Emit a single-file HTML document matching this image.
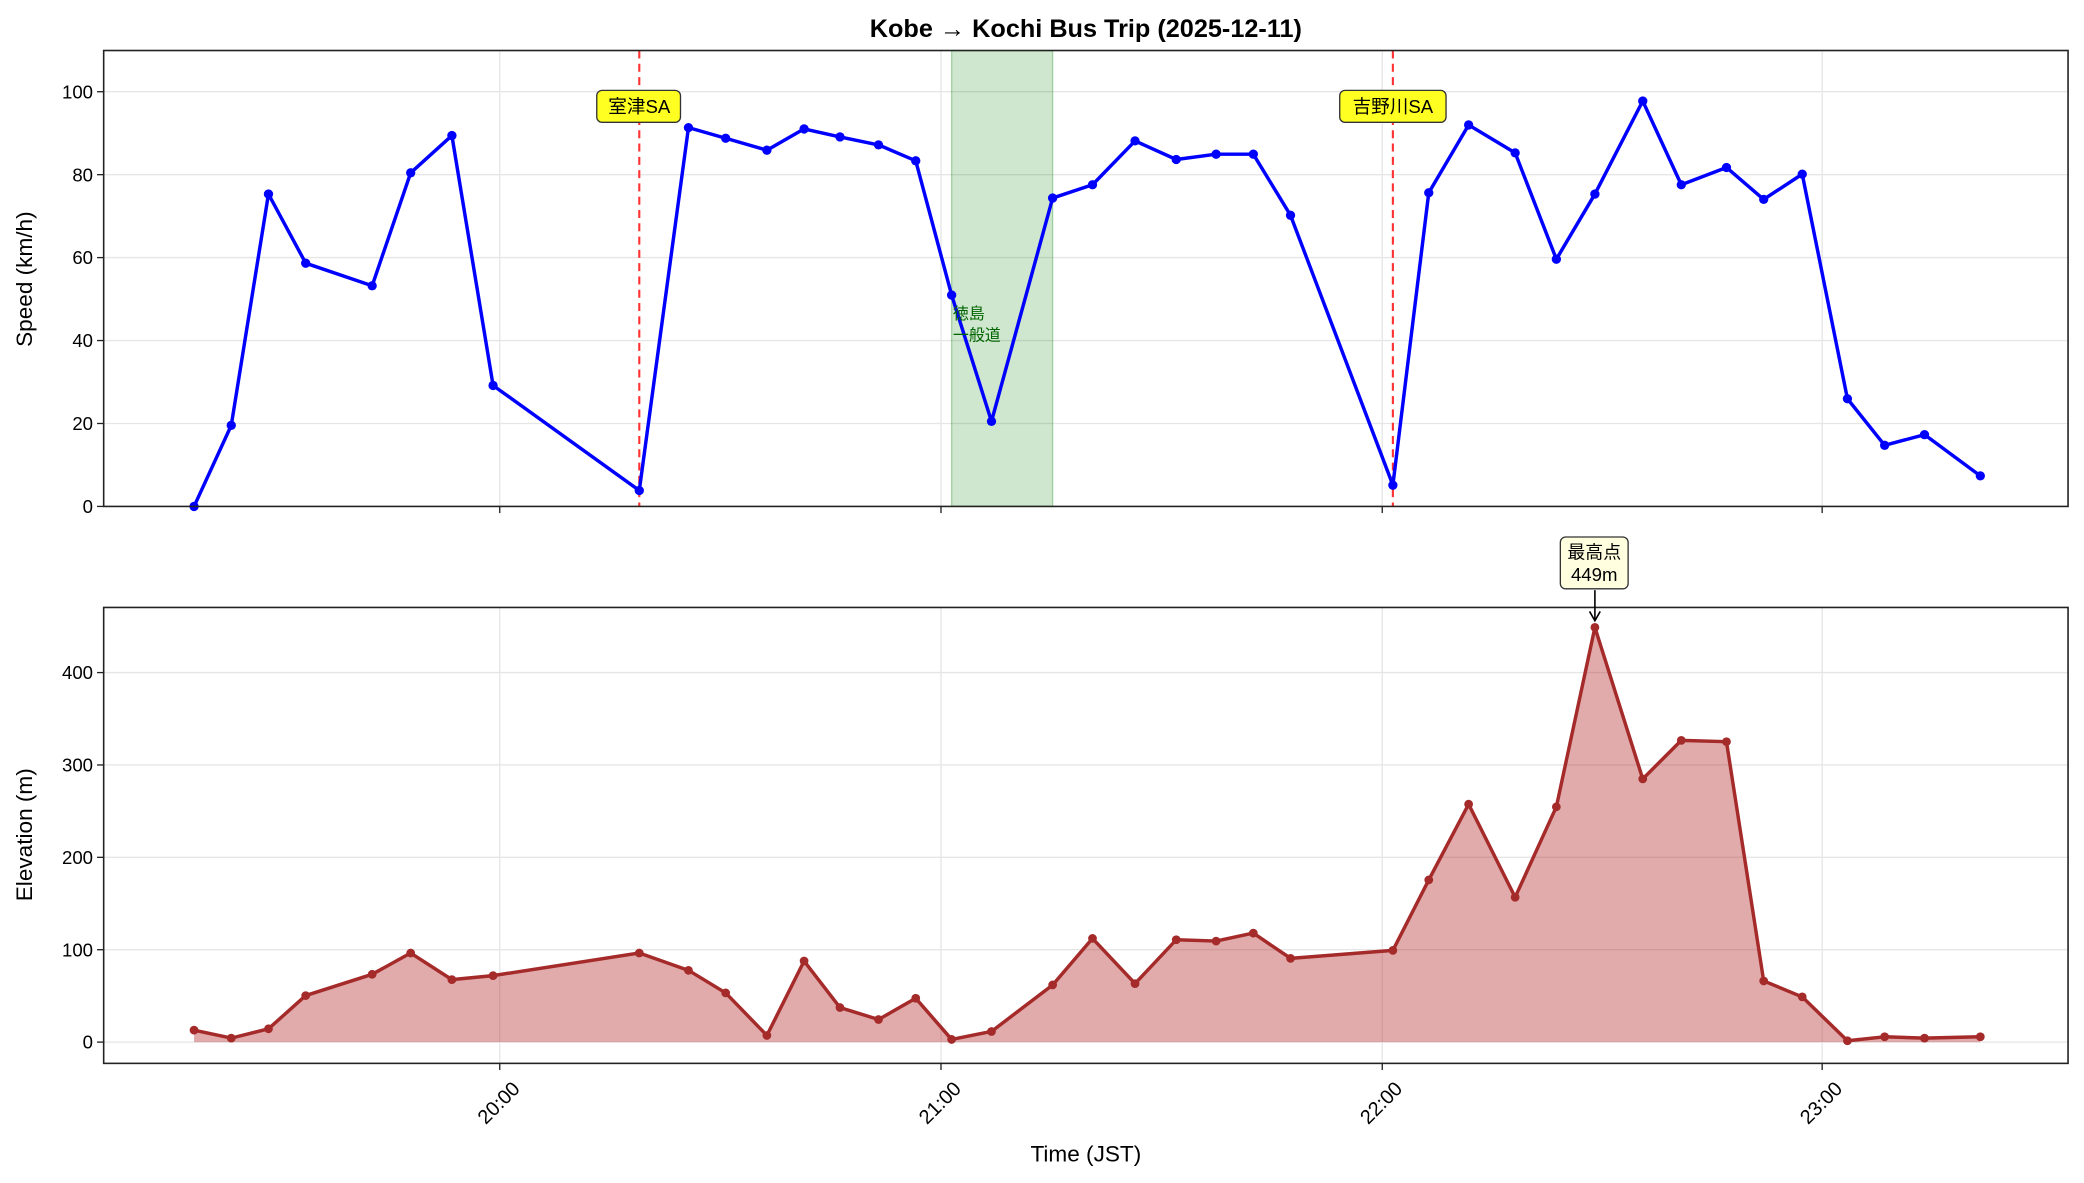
<!DOCTYPE html>
<html><head><meta charset="utf-8"><style>
html,body{margin:0;padding:0;background:#fff;}
svg{display:block;}
text{font-family:"Liberation Sans","Noto Sans CJK JP",sans-serif;fill:#000;}
</style></head><body>
<svg width="2084" height="1183" viewBox="0 0 1568 890" preserveAspectRatio="none" xmlns="http://www.w3.org/2000/svg">
<rect width="1568" height="890" fill="#fff"/>
<text x="817" y="28" font-size="19" font-weight="bold" text-anchor="middle">Kobe → Kochi Bus Trip (2025-12-11)</text>

<!-- TOP AXES -->
<g stroke="#e6e6e6" stroke-width="1">
<line x1="376" y1="38" x2="376" y2="381"/><line x1="708" y1="38" x2="708" y2="381"/><line x1="1040" y1="38" x2="1040" y2="381"/><line x1="1371" y1="38" x2="1371" y2="381"/>
<line x1="78" y1="69" x2="1556" y2="69"/><line x1="78" y1="131.4" x2="1556" y2="131.4"/><line x1="78" y1="193.8" x2="1556" y2="193.8"/><line x1="78" y1="256.2" x2="1556" y2="256.2"/><line x1="78" y1="318.6" x2="1556" y2="318.6"/>
</g>
<rect x="716" y="38" width="76" height="343" fill="rgba(0,128,0,0.19)" stroke="rgba(0,128,0,0.3)" stroke-width="1"/>
<line x1="481" y1="38" x2="481" y2="381" stroke="#ff3333" stroke-width="1.6" stroke-dasharray="6,4"/>
<line x1="1048" y1="38" x2="1048" y2="381" stroke="#ff3333" stroke-width="1.6" stroke-dasharray="6,4"/>
<polyline fill="none" stroke="#0000ff" stroke-width="2.6" stroke-linejoin="round" points="146,381 174,320 202,146 230,198 280,215 309,130 340,102 371,290 481,369 518,96 546,104 577,113 605,97 632,103 661,109 689,121 716,222 746,317 792,149 822,139 854,106 885,120 915,116 943,116 971,162 1048,365 1075,145 1105,94 1140,115 1171,195 1200,146 1236,76 1265,139 1299,126 1327,150 1356,131 1390,300 1418,335 1448,327 1490,358"/>
<g fill="#0000ff">
<circle cx="146" cy="381" r="3.5"/><circle cx="174" cy="320" r="3.5"/><circle cx="202" cy="146" r="3.5"/><circle cx="230" cy="198" r="3.5"/><circle cx="280" cy="215" r="3.5"/><circle cx="309" cy="130" r="3.5"/><circle cx="340" cy="102" r="3.5"/><circle cx="371" cy="290" r="3.5"/><circle cx="481" cy="369" r="3.5"/><circle cx="518" cy="96" r="3.5"/><circle cx="546" cy="104" r="3.5"/><circle cx="577" cy="113" r="3.5"/><circle cx="605" cy="97" r="3.5"/><circle cx="632" cy="103" r="3.5"/><circle cx="661" cy="109" r="3.5"/><circle cx="689" cy="121" r="3.5"/><circle cx="716" cy="222" r="3.5"/><circle cx="746" cy="317" r="3.5"/><circle cx="792" cy="149" r="3.5"/><circle cx="822" cy="139" r="3.5"/><circle cx="854" cy="106" r="3.5"/><circle cx="885" cy="120" r="3.5"/><circle cx="915" cy="116" r="3.5"/><circle cx="943" cy="116" r="3.5"/><circle cx="971" cy="162" r="3.5"/><circle cx="1048" cy="365" r="3.5"/><circle cx="1075" cy="145" r="3.5"/><circle cx="1105" cy="94" r="3.5"/><circle cx="1140" cy="115" r="3.5"/><circle cx="1171" cy="195" r="3.5"/><circle cx="1200" cy="146" r="3.5"/><circle cx="1236" cy="76" r="3.5"/><circle cx="1265" cy="139" r="3.5"/><circle cx="1299" cy="126" r="3.5"/><circle cx="1327" cy="150" r="3.5"/><circle cx="1356" cy="131" r="3.5"/><circle cx="1390" cy="300" r="3.5"/><circle cx="1418" cy="335" r="3.5"/><circle cx="1448" cy="327" r="3.5"/><circle cx="1490" cy="358" r="3.5"/>
</g>
<rect x="449" y="68" width="63" height="24" rx="4" fill="#ffff22" stroke="#333" stroke-width="1"/>
<text x="481" y="85" font-size="14" text-anchor="middle">室津SA</text>
<rect x="1008" y="68" width="80" height="24" rx="4" fill="#ffff22" stroke="#333" stroke-width="1"/>
<text x="1048" y="85" font-size="14" text-anchor="middle">吉野川SA</text>
<text x="717" y="240" font-size="12" fill="#006400" style="fill:#006400">徳島</text>
<text x="717" y="256" font-size="12" fill="#006400" style="fill:#006400">一般道</text>
<rect x="78" y="38" width="1478" height="343" fill="none" stroke="#222" stroke-width="1.2"/>
<g stroke="#222" stroke-width="1"><line x1="376" y1="381" x2="376" y2="386"/><line x1="708" y1="381" x2="708" y2="386"/><line x1="1040" y1="381" x2="1040" y2="386"/><line x1="1371" y1="381" x2="1371" y2="386"/>
<line x1="73" y1="381" x2="78" y2="381"/><line x1="73" y1="318.6" x2="78" y2="318.6"/><line x1="73" y1="256.2" x2="78" y2="256.2"/><line x1="73" y1="193.8" x2="78" y2="193.8"/><line x1="73" y1="131.4" x2="78" y2="131.4"/><line x1="73" y1="69" x2="78" y2="69"/></g>
<g font-size="14" text-anchor="end">
<text x="70" y="386">0</text><text x="70" y="323.6">20</text><text x="70" y="261.2">40</text><text x="70" y="198.8">60</text><text x="70" y="136.4">80</text><text x="70" y="74">100</text></g>
<text transform="translate(24,210) rotate(-90)" font-size="17" text-anchor="middle">Speed (km/h)</text>

<!-- BOTTOM AXES -->
<g stroke="#e6e6e6" stroke-width="1">
<line x1="376" y1="457" x2="376" y2="800"/><line x1="708" y1="457" x2="708" y2="800"/><line x1="1040" y1="457" x2="1040" y2="800"/><line x1="1371" y1="457" x2="1371" y2="800"/>
<line x1="78" y1="784" x2="1556" y2="784"/><line x1="78" y1="714.5" x2="1556" y2="714.5"/><line x1="78" y1="645" x2="1556" y2="645"/><line x1="78" y1="575.5" x2="1556" y2="575.5"/><line x1="78" y1="506" x2="1556" y2="506"/>
</g>
<polygon fill="rgba(178,34,34,0.38)" points="146,784 146,775 174,781 202,774 230,749 280,733 309,717 340,737 371,734 481,717 518,730 546,747 577,779 605,723 632,758 661,767 689,751 716,782 746,776 792,741 822,706 854,740 885,707 915,708 943,702 971,721 1048,715 1075,662 1105,605 1140,675 1171,607 1200,472 1236,586 1265,557 1299,558 1327,738 1356,750 1390,783 1418,780 1448,781 1490,780 1490,784"/>
<polyline fill="none" stroke="#a52a2a" stroke-width="2.6" stroke-linejoin="round" points="146,775 174,781 202,774 230,749 280,733 309,717 340,737 371,734 481,717 518,730 546,747 577,779 605,723 632,758 661,767 689,751 716,782 746,776 792,741 822,706 854,740 885,707 915,708 943,702 971,721 1048,715 1075,662 1105,605 1140,675 1171,607 1200,472 1236,586 1265,557 1299,558 1327,738 1356,750 1390,783 1418,780 1448,781 1490,780"/>
<g fill="#a52a2a">
<circle cx="146" cy="775" r="3.3"/><circle cx="174" cy="781" r="3.3"/><circle cx="202" cy="774" r="3.3"/><circle cx="230" cy="749" r="3.3"/><circle cx="280" cy="733" r="3.3"/><circle cx="309" cy="717" r="3.3"/><circle cx="340" cy="737" r="3.3"/><circle cx="371" cy="734" r="3.3"/><circle cx="481" cy="717" r="3.3"/><circle cx="518" cy="730" r="3.3"/><circle cx="546" cy="747" r="3.3"/><circle cx="577" cy="779" r="3.3"/><circle cx="605" cy="723" r="3.3"/><circle cx="632" cy="758" r="3.3"/><circle cx="661" cy="767" r="3.3"/><circle cx="689" cy="751" r="3.3"/><circle cx="716" cy="782" r="3.3"/><circle cx="746" cy="776" r="3.3"/><circle cx="792" cy="741" r="3.3"/><circle cx="822" cy="706" r="3.3"/><circle cx="854" cy="740" r="3.3"/><circle cx="885" cy="707" r="3.3"/><circle cx="915" cy="708" r="3.3"/><circle cx="943" cy="702" r="3.3"/><circle cx="971" cy="721" r="3.3"/><circle cx="1048" cy="715" r="3.3"/><circle cx="1075" cy="662" r="3.3"/><circle cx="1105" cy="605" r="3.3"/><circle cx="1140" cy="675" r="3.3"/><circle cx="1171" cy="607" r="3.3"/><circle cx="1200" cy="472" r="3.3"/><circle cx="1236" cy="586" r="3.3"/><circle cx="1265" cy="557" r="3.3"/><circle cx="1299" cy="558" r="3.3"/><circle cx="1327" cy="738" r="3.3"/><circle cx="1356" cy="750" r="3.3"/><circle cx="1390" cy="783" r="3.3"/><circle cx="1418" cy="780" r="3.3"/><circle cx="1448" cy="781" r="3.3"/><circle cx="1490" cy="780" r="3.3"/>
</g>
<rect x="78" y="457" width="1478" height="343" fill="none" stroke="#222" stroke-width="1.2"/>
<rect x="1174" y="404" width="51" height="39" rx="4" fill="#ffffe0" stroke="#333" stroke-width="1"/>
<text x="1199.5" y="420" font-size="13.5" text-anchor="middle">最高点</text>
<text x="1199.5" y="437" font-size="14" text-anchor="middle">449m</text>
<line x1="1200" y1="444" x2="1200" y2="466" stroke="#000" stroke-width="1.2"/>
<polyline points="1196,460 1200,467 1204,460" fill="none" stroke="#000" stroke-width="1.2"/>
<g stroke="#222" stroke-width="1"><line x1="376" y1="800" x2="376" y2="805"/><line x1="708" y1="800" x2="708" y2="805"/><line x1="1040" y1="800" x2="1040" y2="805"/><line x1="1371" y1="800" x2="1371" y2="805"/>
<line x1="73" y1="784" x2="78" y2="784"/><line x1="73" y1="714.5" x2="78" y2="714.5"/><line x1="73" y1="645" x2="78" y2="645"/><line x1="73" y1="575.5" x2="78" y2="575.5"/><line x1="73" y1="506" x2="78" y2="506"/></g>
<g font-size="14" text-anchor="end">
<text x="70" y="789">0</text><text x="70" y="719.5">100</text><text x="70" y="650">200</text><text x="70" y="580.5">300</text><text x="70" y="511">400</text></g>
<text transform="translate(24,628) rotate(-90)" font-size="17" text-anchor="middle">Elevation (m)</text>
<g font-size="15" text-anchor="end">
<text transform="translate(392,820) rotate(-45)">20:00</text>
<text transform="translate(724,820) rotate(-45)">21:00</text>
<text transform="translate(1056,820) rotate(-45)">22:00</text>
<text transform="translate(1387,820) rotate(-45)">23:00</text>
</g>
<text x="817" y="874" font-size="17" text-anchor="middle">Time (JST)</text>
</svg>
</body></html>
